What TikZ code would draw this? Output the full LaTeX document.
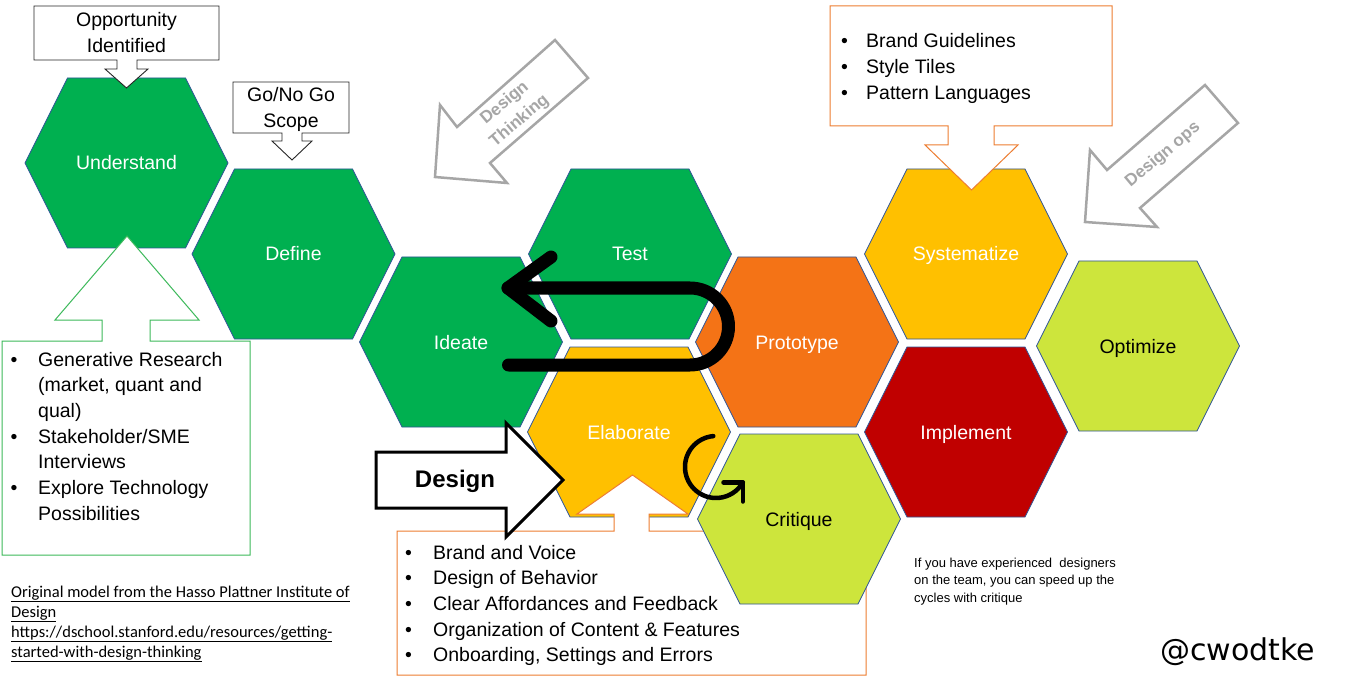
\documentclass[tikz,border=0pt]{standalone}
\usepackage{fontspec}
\setmainfont{Liberation Sans}
\newfontfamily\carlitofont{Carlito}
\newfontfamily\dejavufont{DejaVu Sans}
\definecolor{hexgreen}{RGB}{0,176,80}
\definecolor{hexyellow}{RGB}{255,192,0}
\definecolor{hexorange}{RGB}{244,115,22}
\definecolor{hexred}{RGB}{192,0,0}
\definecolor{hexlime}{RGB}{205,229,60}
\definecolor{hexline}{RGB}{47,85,151}
\definecolor{calorange}{RGB}{237,125,49}
\definecolor{calgreen}{RGB}{60,185,90}
\definecolor{arrowgray}{RGB}{166,166,166}
\newcommand{\lines}[2]{\begin{tabular}[t]{@{}#1@{}}#2\end{tabular}}
\newcommand{\bl}[1]{\makebox[#1][l]{\textbullet}}
\newcommand{\hexa}[6]{%
  \path[hexbody, fill=#4] ({#2-101.5},{#3}) -- ({#2-59},{#3-85}) -- ({#2+59},{#3-85}) -- ({#2+101.5},{#3}) -- ({#2+59},{#3+85}) -- ({#2-59},{#3+85}) -- cycle;
  \node[hexlabel, text=#5] (#1) at ({#2},{#3+7}) {#6};}
\begin{document}
\begin{tikzpicture}[x=1pt, y=-1pt,
  hexbody/.style={draw=hexline, line width=0.75pt},
  hexlabel/.style={anchor=base, inner sep=0pt, font=\fontsize{19.5}{24}\selectfont},
  calblack/.style={draw=black!85, line width=0.9pt, fill=white, line join=miter},
  calorg/.style={draw=calorange, line width=1pt, fill=white, line join=miter},
  calgrn/.style={draw=calgreen, line width=1pt, fill=white, line join=miter},
  grayarrow/.style={draw=arrowgray, line width=2.5pt, fill=white, line join=miter},
  graytext/.style={inner sep=0pt, text=arrowgray, font=\fontsize{17}{23}\selectfont\bfseries},
  boxtext/.style={inner sep=0pt, anchor=base, font=\fontsize{19.5}{26}\selectfont},
  listtext/.style={inner sep=0pt, anchor=base west, font=\fontsize{19.5}{25.7}\selectfont},
  thickarrow/.style={draw=black, line width=13pt, line cap=round, line join=round},
  loopyarrow/.style={draw=black, line width=4.5pt, line cap=round, line join=round},
  designarrow/.style={draw=black, line width=3pt, fill=white, line join=miter}
]
\fill[white] (0,0) rectangle (1358,679);
\useasboundingbox (0,0) rectangle (1358,679);

% hexagons
\hexa{understand}{126.5}{163}{hexgreen}{white}{Understand}
\hexa{define}{293.5}{254}{hexgreen}{white}{Define}
\hexa{ideate}{461}{342}{hexgreen}{white}{Ideate}
\hexa{test}{630}{254}{hexgreen}{white}{Test}
\hexa{elaborate}{629}{432}{hexyellow}{white}{Elaborate}
\hexa{prototype}{797}{342}{hexorange}{white}{Prototype}
\hexa{systematize}{966}{254}{hexyellow}{white}{Systematize}
\hexa{implement}{966}{432}{hexred}{white}{Implement}
\hexa{optimize}{1138}{346}{hexlime}{black}{Optimize}

% callouts
\path[calblack] (34,6) -- (219,6) -- (219,60) -- (137,60) -- (137,69) -- (148,69) -- (126.5,88) -- (105,69) -- (117,69) -- (117,60) -- (34,60) -- cycle;
\node[boxtext] (opp) at (126.5,27) {\lines{c}{Opportunity\\Identified}};

\path[calblack] (233,82) -- (349,82) -- (349,133) -- (302,133) -- (302,141) -- (312,141) -- (292,160) -- (272,141) -- (282,141) -- (282,133) -- (233,133) -- cycle;
\node[boxtext] (gonogo) at (291,102) {\lines{c}{Go/No Go\\Scope}};

\path[calorg] (830,6) -- (1112,6) -- (1112,126) -- (994,126) -- (994,145) -- (1018,145) -- (971.5,190) -- (925,145) -- (948,145) -- (948,126) -- (830,126) -- cycle;
\node[listtext] (brand) at (841,48) {\lines{l@{}l}{\bl{25pt}&Brand Guidelines\\ \bl{25pt}&Style Tiles\\ \bl{25pt}&Pattern Languages}};

\path[calgrn] (2,341) -- (102,341) -- (102,320) -- (55,320) -- (127,236) -- (199,320) -- (150,320) -- (150,341) -- (250,341) -- (250,555) -- (2,555) -- cycle;
\node[listtext] (research) at (10.5,366) {\lines{l@{}l}{\bl{27.5pt}&Generative Research\\ &(market, quant and\\ &qual)\\ \bl{27.5pt}&Stakeholder/SME\\ &Interviews\\ \bl{27.5pt}&Explore Technology\\ &Possibilities}};

\path[calorg] (397,531) -- (614,531) -- (614,514) -- (577,514) -- (632.5,475) -- (688,514) -- (649,514) -- (649,531) -- (866,531) -- (866,675) -- (397,675) -- cycle;
\node[listtext] (elablist) at (405,559) {\lines{l@{}l}{\bl{28pt}&Brand and Voice\\ \bl{28pt}&Design of Behavior\\ \bl{28pt}&Clear Affordances and Feedback\\ \bl{28pt}&Organization of Content \& Features\\ \bl{28pt}&Onboarding, Settings and Errors}};

\hexa{critique}{799}{519}{hexlime}{black}{Critique}

% gray arrows
\path[grayarrow] (440,105) -- (457,127) -- (555,40) -- (588,78) -- (490,163) -- (507,183) -- (435,177) -- cycle;
\node[graytext, rotate=40] (dt) at (512,112) {\lines{c}{Design\\Thinking}};
\path[grayarrow] (1090,150) -- (1107,170) -- (1205,85) -- (1238,123) -- (1140,208) -- (1157,227) -- (1085,222) -- cycle;
\node[graytext, rotate=40] (dops) at (1163,155) {Design ops};

% big U-turn arrow
\draw[thickarrow] (508.5,365) -- (690,365) arc[start angle=90, end angle=-90, radius=38.5] -- (508,288);
\draw[thickarrow] (551,257) -- (508,288) -- (551,321);

% design arrow
\path[designarrow] (376,452) -- (506,452) -- (506,423) -- (563,480) -- (506,537) -- (506,508) -- (376,508) -- cycle;
\node[inner sep=0pt, font=\fontsize{24}{28}\selectfont\bfseries] (design) at (455,481) {Design};

% critique loop arrow
\draw[loopyarrow] (716,467) ++(-95:31) arc[start angle=-95, end angle=-330, radius=31];
\draw[loopyarrow] (723.5,482.5) -- (742.8,482.5) -- (742.8,501.5);

% notes
\node[inner sep=0pt, anchor=base west, font=\carlitofont\fontsize{16.5}{20}\selectfont] (source) at (11,597) {\lines{l}{\underline{Original model from the Hasso Plattner Institute of}\\ \underline{Design}\\ \underline{https://dschool.stanford.edu/resources/getting-}\\ \underline{started-with-design-thinking}}};
\node[inner sep=0pt, anchor=base west, font=\fontsize{13}{17.5}\selectfont] (note) at (914,567) {\lines{l}{If you have experienced~ designers\\ on the team, you can speed up the\\ cycles with critique}};
\node[inner sep=0pt, anchor=base west, font=\dejavufont\fontsize{30}{34}\selectfont] (handle) at (1160,660) {@cwodtke};
\end{tikzpicture}
\end{document}
